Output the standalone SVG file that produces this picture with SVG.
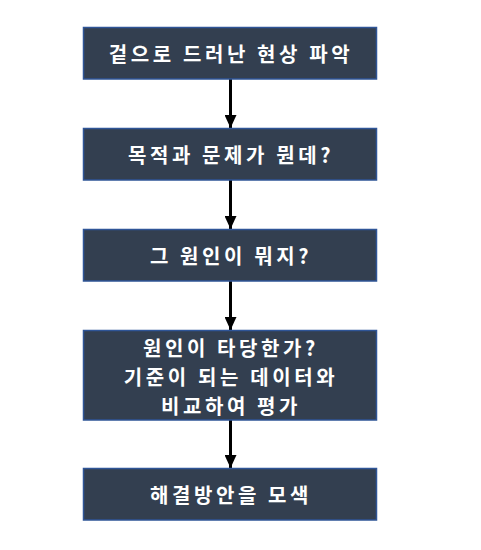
<svg xmlns="http://www.w3.org/2000/svg" width="481" height="550" viewBox="0 0 481 550">
<style>
.box{fill:#333f50;stroke:#2f5597;stroke-width:1.5}
.t{fill:#ffffff;font-family:"Noto Sans CJK KR","Malgun Gothic",sans-serif;font-weight:bold;font-size:20px;letter-spacing:3.6px;text-anchor:middle;dominant-baseline:central}
.c{stroke:#000;stroke-width:3;fill:none}
</style>
<defs>
<marker id="ah" markerUnits="userSpaceOnUse" markerWidth="13" markerHeight="12" refX="13" refY="6" orient="auto">
<path d="M0,0 L13,6 L0,12 Z" fill="#000"/>
</marker>
</defs>
<rect width="481" height="550" fill="#fff"/>
<g id="connectors">
<line class="c" x1="230.5" y1="79" x2="230.5" y2="128" marker-end="url(#ah)"/>
<line class="c" x1="230.5" y1="180" x2="230.5" y2="229" marker-end="url(#ah)"/>
<line class="c" x1="230.5" y1="281" x2="230.5" y2="330" marker-end="url(#ah)"/>
<line class="c" x1="230.5" y1="420" x2="230.5" y2="468" marker-end="url(#ah)"/>
</g>
<g id="n1">
<rect class="box" x="83.5" y="27.5" width="293" height="51.5"/>
<text class="t" x="231" y="53">겉으로 드러난 현상 파악</text>
</g>
<g id="n2">
<rect class="box" x="83.5" y="128.5" width="293" height="51.5"/>
<text class="t" x="231" y="154">목적과 문제가 뭔데?</text>
</g>
<g id="n3">
<rect class="box" x="83.5" y="229.5" width="293" height="51.5"/>
<text class="t" x="231" y="255">그 원인이 뭐지?</text>
</g>
<g id="n4">
<rect class="box" x="83.5" y="330.5" width="293" height="89.5"/>
<text class="t"><tspan x="231" y="347">원인이 타당한가?</tspan><tspan x="231" y="376">기준이 되는 데이터와</tspan><tspan x="231" y="405">비교하여 평가</tspan></text>
</g>
<g id="n5">
<rect class="box" x="83.5" y="468.5" width="293" height="51.5"/>
<text class="t" x="231" y="494">해결방안을 모색</text>
</g>
</svg>
